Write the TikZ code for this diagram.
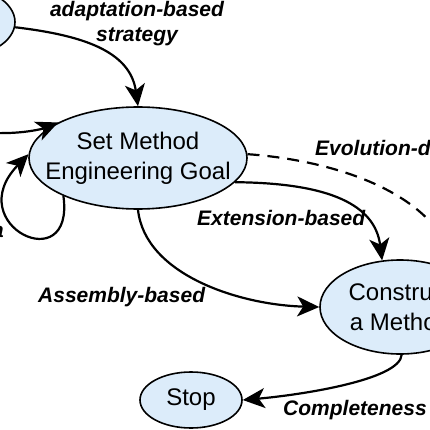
\documentclass[tikz,border=0pt]{standalone}
\usepackage{fontspec}
\setmainfont{Liberation Sans}
\usetikzlibrary{shapes.geometric,arrows.meta}
\definecolor{goalblue}{RGB}{220,236,250}
\tikzset{
    intention/.style={ellipse, draw=black, line width=1.6pt, fill=goalblue,
        inner xsep=-30pt, inner ysep=-15pt, align=center,
        font=\fontsize{24}{30}\selectfont},
    strategy/.style={line width=2.2pt, -{Stealth[length=22pt,width=20pt,inset=6pt]}},
    strategylabel/.style={font=\fontsize{21}{25}\selectfont\bfseries\itshape,
        inner sep=0pt, align=center}
}

\begin{document}
\begin{tikzpicture}[x=1pt,y=-1pt]

    % Frame of the picture, everything outside is cut away
    \useasboundingbox (0,0) rectangle (430,430);
    \clip (0,0) rectangle (430,430);

    % Intentions of the map
    \node[intention, minimum width=120pt, minimum height=72pt] (start) at (-45,22) {};
    \node[intention, minimum width=218pt, minimum height=102pt] (goal) at (138,158)
        {Set Method\\Engineering Goal};
    \node[intention, minimum width=160pt, minimum height=94pt] (construct) at (400,307)
        {Construct\\a Method};
    \node[intention, minimum width=102pt, minimum height=56pt] (stop) at (191,400) {Stop};
    \coordinate (west) at (-5,133);

    % Strategies between the intentions
    \draw[strategy] (start.-5) .. controls (80,35) and (130,50) .. (goal.north);
    \draw[strategy] (west) .. controls (25,134) and (45,128) .. (goal.156);
    \draw[strategy] (goal.-153) .. controls (75,280) and (-40,225) .. (goal.178);
    \draw[strategy, dash pattern=on 12pt off 8pt, line width=2.2pt]
        (goal.2) .. controls (330,160) and (430,190) .. (construct.30);
    \draw[strategy] (goal.-14) .. controls (330,183) and (375,205) .. (construct.111);
    \draw[strategy] (goal.south) .. controls (145,275) and (240,305) .. (construct.west);
    \draw[strategy] (construct.-88) .. controls (400,380) and (300,395) .. (stop.east);

    % Names of the strategies
    \node[strategylabel] (adaptation) at (137,24) {adaptation-based\\strategy};
    \node[strategylabel, anchor=base east] (loopname) at (4,237) {a};
    \node[strategylabel, anchor=west] (evolution) at (315,148) {Evolution-d};
    \node[strategylabel, anchor=west] (extension) at (197,218) {Extension-based};
    \node[strategylabel, anchor=west] (assembly) at (38,297) {Assembly-based};
    \node[strategylabel, anchor=west] (completeness) at (283,410) {Completeness};

\end{tikzpicture}
\end{document}
